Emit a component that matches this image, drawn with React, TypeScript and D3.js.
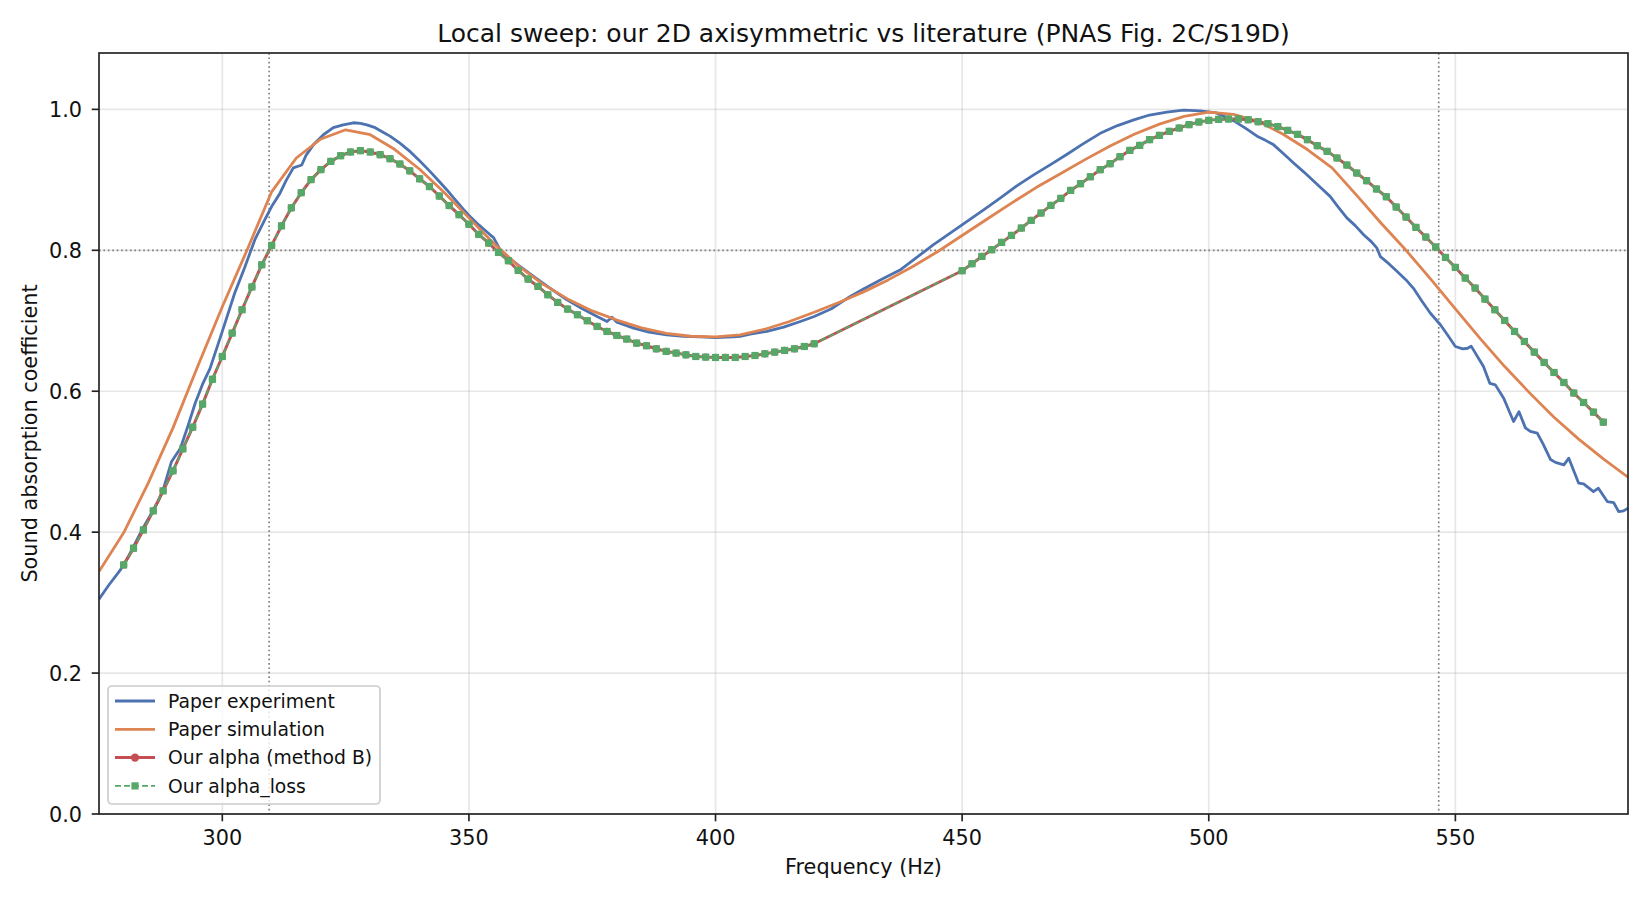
import React from 'react';
import * as d3 from 'd3';

const expFreq = [275, 277, 279.3, 281, 283.7, 285.5, 287, 288, 289.7, 291.5, 293, 294.5, 296, 297.5, 300, 302.5, 304.5, 306.6, 308.6, 310, 311.7, 313, 314.4, 316.1, 317, 318.5, 320.5, 322.5, 324.5, 326.6, 328, 329.3, 331, 332.5, 334, 336, 338.1, 340, 342.1, 343.8, 345.5, 347.2, 348.9, 350.5, 352, 354.3, 355, 356.3, 358, 360, 363.1, 366.5, 369.8, 373, 376, 378, 379, 380, 383.4, 386.5, 390.1, 393.5, 396.9, 400, 403.6, 405, 407, 410.4, 413.8, 417.2, 420, 423.5, 427.3, 430, 434, 437.4, 441, 444.2, 447.5, 451, 454.5, 457.7, 461, 464.5, 468, 471.2, 474.5, 478, 481.5, 484.8, 488, 491.5, 494.9, 498.3, 501.5, 505, 507.5, 509.8, 511.5, 513.1, 515, 517.2, 519.3, 521.3, 523, 524.6, 526.3, 528, 529.7, 531.4, 533, 534.1, 534.8, 536.5, 538.2, 540, 541.5, 543.2, 544.9, 547, 548.6, 550, 551.5, 552.5, 553.2, 555.7, 557, 558.1, 559.8, 561.8, 562.9, 564.2, 565.2, 566.6, 567.8, 569.3, 570.3, 572, 573, 575, 576, 578, 579, 580.8, 582.1, 583.1, 584.1, 585];
const expAlpha = [0.305, 0.325, 0.346, 0.366, 0.403, 0.425, 0.444, 0.46, 0.5, 0.519, 0.55, 0.583, 0.61, 0.632, 0.685, 0.739, 0.775, 0.815, 0.843, 0.862, 0.881, 0.9, 0.917, 0.921, 0.935, 0.95, 0.964, 0.974, 0.978, 0.981, 0.98, 0.978, 0.974, 0.968, 0.962, 0.952, 0.94, 0.927, 0.912, 0.899, 0.886, 0.872, 0.858, 0.846, 0.836, 0.822, 0.818, 0.801, 0.79, 0.779, 0.763, 0.746, 0.73, 0.717, 0.706, 0.699, 0.705, 0.698, 0.6895, 0.684, 0.68, 0.678, 0.677, 0.676, 0.677, 0.678, 0.681, 0.685, 0.691, 0.699, 0.706, 0.717, 0.7345, 0.745, 0.76, 0.772, 0.791, 0.808, 0.824, 0.841, 0.858, 0.874, 0.891, 0.907, 0.922, 0.936, 0.951, 0.966, 0.977, 0.985, 0.992, 0.996, 0.999, 0.998, 0.995, 0.984, 0.973, 0.962, 0.956, 0.95, 0.938, 0.924, 0.911, 0.898, 0.887, 0.8765, 0.861, 0.846, 0.835, 0.822, 0.812, 0.803, 0.791, 0.781, 0.77, 0.758, 0.746, 0.728, 0.711, 0.694, 0.678, 0.6635, 0.66, 0.661, 0.664, 0.635, 0.611, 0.609, 0.59, 0.557, 0.571, 0.548, 0.543, 0.5405, 0.525, 0.503, 0.499, 0.4955, 0.505, 0.4695, 0.4685, 0.4576, 0.4624, 0.4434, 0.442, 0.4292, 0.4302, 0.434];

// Paper simulation (5 Hz steps)
const simFreq = [275, 280, 285, 290, 295, 300, 305, 310, 315, 320, 325, 330, 335, 340, 345, 350, 355, 360, 365, 370, 375, 380, 385, 390, 395, 400, 405, 410, 415, 420, 425, 430, 435, 440, 445, 450, 455, 460, 465, 470, 475, 480, 485, 490, 495, 500, 505, 510, 515, 520, 525, 530, 535, 540, 545, 550, 555, 560, 565, 570, 575, 580, 585];
const simAlpha = [0.344, 0.399, 0.47, 0.548, 0.635, 0.72, 0.8, 0.883, 0.931, 0.958, 0.971, 0.964, 0.943, 0.915, 0.882, 0.846, 0.81, 0.778, 0.752, 0.731, 0.714, 0.701, 0.69, 0.682, 0.678, 0.677, 0.68, 0.688, 0.699, 0.712, 0.726, 0.741, 0.758, 0.777, 0.798, 0.821, 0.844, 0.867, 0.889, 0.909, 0.929, 0.948, 0.965, 0.979, 0.99, 0.996, 0.993, 0.983, 0.965, 0.943, 0.917, 0.878, 0.838, 0.8, 0.759, 0.717, 0.675, 0.635, 0.598, 0.563, 0.532, 0.504, 0.478];

// Our sweep (2 Hz steps, gap 420-450)
const ourFreq = [280, 282, 284, 286, 288, 290, 292, 294, 296, 298, 300, 302, 304, 306, 308, 310, 312, 314, 316, 318, 320, 322, 324, 326, 328, 330, 332, 334, 336, 338, 340, 342, 344, 346, 348, 350, 352, 354, 356, 358, 360, 362, 364, 366, 368, 370, 372, 374, 376, 378, 380, 382, 384, 386, 388, 390, 392, 394, 396, 398, 400, 402, 404, 406, 408, 410, 412, 414, 416, 418, 420, 450, 452, 454, 456, 458, 460, 462, 464, 466, 468, 470, 472, 474, 476, 478, 480, 482, 484, 486, 488, 490, 492, 494, 496, 498, 500, 502, 504, 506, 508, 510, 512, 514, 516, 518, 520, 522, 524, 526, 528, 530, 532, 534, 536, 538, 540, 542, 544, 546, 548, 550, 552, 554, 556, 558, 560, 562, 564, 566, 568, 570, 572, 574, 576, 578, 580];
const ourAlpha = [0.3535, 0.3772, 0.4032, 0.4302, 0.4586, 0.487, 0.5182, 0.549, 0.5817, 0.617, 0.6493, 0.6825, 0.7156, 0.748, 0.7795, 0.8069, 0.8347, 0.8603, 0.8817, 0.9003, 0.9145, 0.9262, 0.9342, 0.9395, 0.9414, 0.9395, 0.9357, 0.93, 0.9225, 0.9128, 0.9015, 0.8905, 0.877, 0.8635, 0.8505, 0.837, 0.8225, 0.8103, 0.797, 0.7852, 0.7714, 0.7592, 0.7487, 0.7369, 0.726, 0.7166, 0.7085, 0.7, 0.6919, 0.6848, 0.6791, 0.674, 0.6683, 0.6645, 0.6602, 0.6565, 0.6541, 0.6517, 0.6493, 0.6484, 0.6479, 0.6479, 0.6479, 0.6493, 0.6507, 0.6531, 0.6555, 0.6579, 0.6602, 0.6635, 0.6674, 0.771, 0.7809, 0.7913, 0.8008, 0.8112, 0.8211, 0.8316, 0.8424, 0.8529, 0.8637, 0.8737, 0.885, 0.8945, 0.9044, 0.9144, 0.9229, 0.9329, 0.9418, 0.9489, 0.957, 0.9631, 0.9688, 0.9735, 0.9783, 0.9821, 0.9844, 0.9858, 0.9863, 0.9863, 0.9853, 0.9825, 0.9797, 0.9755, 0.9702, 0.9645, 0.957, 0.9485, 0.9404, 0.931, 0.921, 0.9097, 0.8988, 0.887, 0.876, 0.8614, 0.8472, 0.8325, 0.8188, 0.8046, 0.7899, 0.7757, 0.7606, 0.7464, 0.7308, 0.7156, 0.7004, 0.6848, 0.6706, 0.6555, 0.6408, 0.6266, 0.6124, 0.5975, 0.584, 0.5703, 0.5561];
const ourAlphaLoss = ourAlpha.slice();

const xTicks = [300, 350, 400, 450, 500, 550];
const yTicks = [0.0, 0.2, 0.4, 0.6, 0.8, 1.0];
const threshold = 0.8;

const legendLabels = ['Paper experiment', 'Paper simulation', 'Our alpha (method B)', 'Our alpha_loss'];

const W = 1650;
const H = 900;
const M = { left: 99, right: 22, top: 53, bottom: 86 };
const FONT = 'DejaVu Sans, sans-serif';
const C_BLUE = '#4C72B0';
const C_ORANGE = '#DD8452';
const C_RED = '#C44E52';
const C_GREEN = '#55A868';

function crossings(fs: number[], as: number[], level: number): number[] {
  const out: number[] = [];
  for (let i = 1; i < fs.length; i++) {
    const a0 = as[i - 1] - level;
    const a1 = as[i] - level;
    if (a0 === 0) out.push(fs[i - 1]);
    else if (a0 * a1 < 0) out.push(fs[i - 1] + (fs[i] - fs[i - 1]) * (a0 / (a0 - a1)));
  }
  return out;
}

export default function App() {
  const x = d3.scaleLinear().domain([275, 585]).range([M.left, W - M.right]);
  const y = d3.scaleLinear().domain([0, 1.08]).range([H - M.bottom, M.top]);
  const x0 = M.left, x1 = W - M.right, y0 = H - M.bottom, y1 = M.top;

  const mk = (fs: number[], as: number[]) =>
    d3.line<number>().x((_, i) => x(fs[i])).y((d) => y(d))(as) || '';

  const expPath = mk(expFreq, expAlpha);
  const simPath = mk(simFreq, simAlpha);
  const ourPath = mk(ourFreq, ourAlpha);
  const lossPath = mk(ourFreq, ourAlphaLoss);
  const allCross = crossings(ourFreq, ourAlpha, threshold);
  const vlines = allCross.length ? [allCross[0], allCross[allCross.length - 1]] : [];
  const fmt = d3.format('.1f');

  const lgX = 108, lgY = 686, lgW = 272, lgH = 118;
  const rowY = (i: number) => 701 + i * 28.3;
  const LW = 2.8;

  return (
    <div>
      <style>{`body{margin:0;}`}</style>
      <svg width={W} height={H} style={{ display: 'block', background: '#fff' }} fontFamily={FONT}>
        <defs>
          <clipPath id="plot">
            <rect x={x0} y={y1} width={x1 - x0} height={y0 - y1} />
          </clipPath>
        </defs>
        <rect x={0} y={0} width={W} height={H} fill="#fff" />
        {/* grid */}
        <g stroke="#b0b0b0" strokeOpacity={0.3} strokeWidth={1.67}>
          {xTicks.map((t) => (
            <line key={'gx' + t} x1={x(t)} x2={x(t)} y1={y1} y2={y0} />
          ))}
          {yTicks.map((t) => (
            <line key={'gy' + t} x1={x0} x2={x1} y1={y(t)} y2={y(t)} />
          ))}
        </g>
        {/* reference dotted lines */}
        <g stroke="#808080" strokeWidth={1.67} strokeDasharray="1.67 2.75" clipPath="url(#plot)">
          <line x1={x0} x2={x1} y1={y(threshold)} y2={y(threshold)} />
          {vlines.map((f, i) => (
            <line key={'v' + i} x1={x(f)} x2={x(f)} y1={y1} y2={y0} />
          ))}
        </g>
        {/* data */}
        <g clipPath="url(#plot)" fill="none" strokeLinejoin="round">
          <path d={expPath} stroke={C_BLUE} strokeWidth={LW} />
          <path d={simPath} stroke={C_ORANGE} strokeWidth={LW} />
          <path d={ourPath} stroke={C_RED} strokeWidth={3} />
          {ourFreq.map((f, i) => (
            <circle key={'r' + i} cx={x(f)} cy={y(ourAlpha[i])} r={3.6} fill={C_RED} />
          ))}
          <path d={lossPath} stroke={C_GREEN} strokeWidth={1.8} strokeDasharray="6 3" />
          {ourFreq.map((f, i) => (
            <rect key={'g' + i} x={x(f) - 3.6} y={y(ourAlphaLoss[i]) - 3.6} width={7.2} height={7.2} fill={C_GREEN} />
          ))}
        </g>
        {/* spines */}
        <rect x={x0} y={y1} width={x1 - x0} height={y0 - y1} fill="none" stroke="#222" strokeWidth={1.67} />
        {/* ticks */}
        <g stroke="#222" strokeWidth={1.67}>
          {xTicks.map((t) => (
            <line key={'tx' + t} x1={x(t)} x2={x(t)} y1={y0} y2={y0 + 7.3} />
          ))}
          {yTicks.map((t) => (
            <line key={'ty' + t} x1={x0 - 7.3} x2={x0} y1={y(t)} y2={y(t)} />
          ))}
        </g>
        <g fontSize={20.8} fill="#111">
          {xTicks.map((t) => (
            <text key={'lx' + t} x={x(t)} y={y0 + 30.5} textAnchor="middle">{t}</text>
          ))}
          {yTicks.map((t) => (
            <text key={'ly' + t} x={x0 - 17} y={y(t) + 7.5} textAnchor="end">{fmt(t)}</text>
          ))}
        </g>
        <text x={(x0 + x1) / 2} y={874} textAnchor="middle" fontSize={20.8} fill="#111">Frequency (Hz)</text>
        <text transform={`translate(37,${(y0 + y1) / 2}) rotate(-90)`} textAnchor="middle" fontSize={20.8} fill="#111">Sound absorption coefficient</text>
        <text x={(x0 + x1) / 2} y={42} textAnchor="middle" fontSize={25} fill="#111">Local sweep: our 2D axisymmetric vs literature (PNAS Fig. 2C/S19D)</text>
        {/* legend */}
        <g>
          <rect x={lgX} y={lgY} width={lgW} height={lgH} rx={4} fill="#fff" fillOpacity={0.8} stroke="#cccccc" strokeWidth={1.67} />
          <line x1={115} x2={155} y1={rowY(0)} y2={rowY(0)} stroke={C_BLUE} strokeWidth={LW} />
          <line x1={115} x2={155} y1={rowY(1)} y2={rowY(1)} stroke={C_ORANGE} strokeWidth={LW} />
          <line x1={115} x2={155} y1={rowY(2)} y2={rowY(2)} stroke={C_RED} strokeWidth={3} />
          <circle cx={135} cy={rowY(2)} r={4.2} fill={C_RED} />
          <line x1={115} x2={155} y1={rowY(3)} y2={rowY(3)} stroke={C_GREEN} strokeWidth={1.8} strokeDasharray="6 3" />
          <rect x={135 - 3.6} y={rowY(3) - 3.6} width={7.2} height={7.2} fill={C_GREEN} />
          {legendLabels.map((l, i) => (
            <text key={l} x={168} y={rowY(i) + 6.7} fontSize={18.75} fill="#111">{l}</text>
          ))}
        </g>
      </svg>
    </div>
  );
}
